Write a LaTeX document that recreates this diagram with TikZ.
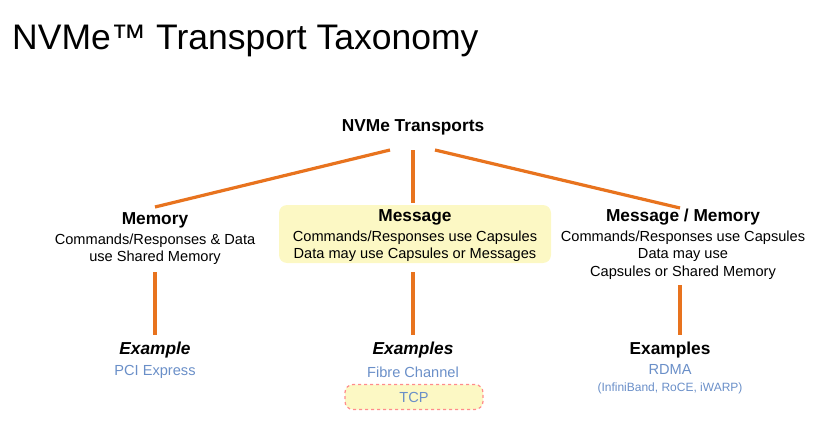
\documentclass[tikz,border=0pt]{standalone}
\usepackage{fontspec}
\setmainfont{Liberation Sans}
\definecolor{ora}{HTML}{E8731E}
\definecolor{blu}{HTML}{6A8FC8}
\definecolor{pale}{HTML}{FCF8C4}
\begin{document}
\begin{tikzpicture}[x=1pt,y=-1pt,
  conn/.style={draw=ora, line width=3.2pt},
  txt/.style={font=\fontsize{14.6}{17}\selectfont, align=center, inner sep=0pt},
  hd/.style={font=\fontsize{17.3}{19}\selectfont\bfseries, inner sep=0pt},
  ex/.style={font=\fontsize{17.3}{19}\selectfont\bfseries\itshape, inner sep=0pt},
  bl/.style={font=\fontsize{14.6}{17}\selectfont, text=blu, inner sep=0pt, align=center}]
\useasboundingbox (0,0) rectangle (831,428);
\node[anchor=base west, font=\fontsize{35.5}{38}\selectfont, inner sep=0pt] (title) at (12,50) {NVMe™ Transport Taxonomy};
\node[hd] (root) at (413,127) {NVMe Transports};
\fill[pale, rounded corners=8pt] (279,205) rectangle (551,263);
\node[hd] (mem) at (155,220) {Memory};
\node[txt] (memt) at (155,249) {Commands/Responses \& Data\\use Shared Memory};
\node[hd] (msg) at (415,217) {Message};
\node[txt] (msgt) at (415,246) {Commands/Responses use Capsules\\Data may use Capsules or Messages};
\node[hd] (mm) at (683,217) {Message / Memory};
\node[txt, font=\fontsize{14.6}{17.5}\selectfont] (mmt) at (683,255) {Commands/Responses use Capsules\\Data may use\\Capsules or Shared Memory};
\coordinate (r1) at (390,150); \coordinate (r2) at (413,150); \coordinate (r3) at (435,150);
\draw[conn] (r1) -- (155,207);
\draw[conn] (r2) -- (413,203);
\draw[conn] (r3) -- (680,208);
\coordinate (a1) at (155,272); \coordinate (a2) at (413,272); \coordinate (a3) at (680,285);
\node[ex] (e1) at (155,350) {Example};
\node[ex] (e2) at (413,350) {Examples};
\node[hd] (e3) at (670,350) {Examples};
\draw[conn] (a1) -- (155,335);
\draw[conn] (a2) -- (413,335);
\draw[conn] (a3) -- (680,335);
\node[bl] (pci) at (155,372) {PCI Express};
\node[bl] (fc) at (413,372) {Fibre Channel};
\node[bl, draw=red!45, dashed, line width=1.2pt, fill=pale, rounded corners=8pt, minimum width=138pt, minimum height=25pt] (tcp) at (414,397) {TCP};
\node[bl] (rdma) at (670,369) {RDMA};
\node[bl, font=\fontsize{12}{14}\selectfont] (ib) at (670,388) {(InfiniBand, RoCE, iWARP)};
\end{tikzpicture}
\end{document}
